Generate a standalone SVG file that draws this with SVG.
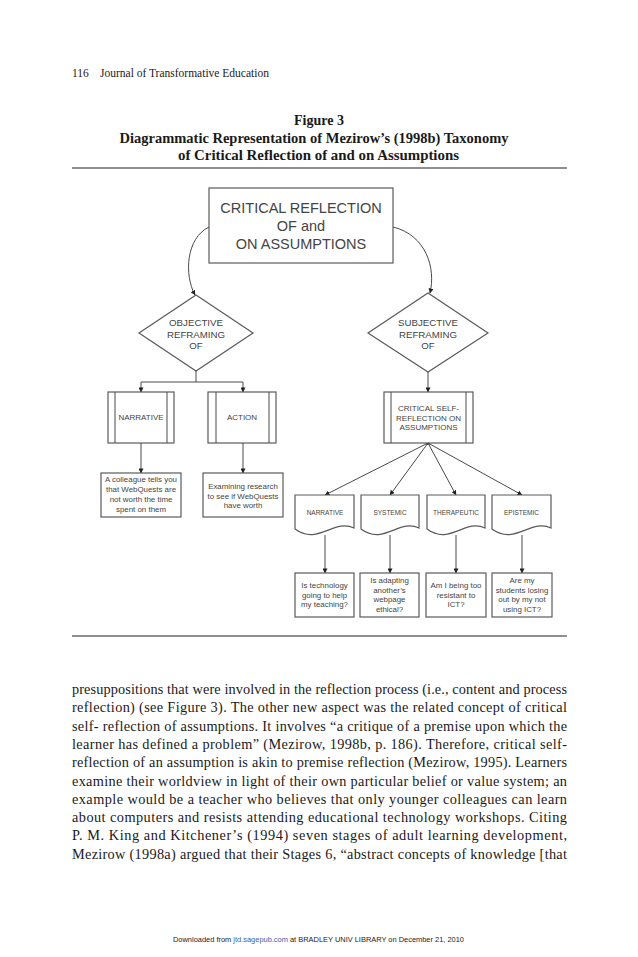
<svg xmlns="http://www.w3.org/2000/svg" width="638" height="957" viewBox="0 0 638 957">
<style>
.bg{fill:#fff}
.shape{fill:#fff;stroke:#5a5a5a;stroke-width:1.2}
.line{fill:none;stroke:#4a4a4a;stroke-width:1}
.rule{stroke:#222;stroke-width:1.2}
.d{font-family:"Liberation Sans",Arial,sans-serif;fill:#444;text-anchor:middle}
.big{font-size:14.5px}
.dia{font-size:9.7px}
.lbl{font-size:8px}
.doc{font-size:6.5px}
.cal{font-size:7.9px}
.body{font-family:"Liberation Serif","Times New Roman",serif;font-size:14.3px;fill:#1a1a1a}
.title{font-family:"Liberation Serif","Times New Roman",serif;font-size:14px;font-weight:bold;fill:#1a1a1a;text-anchor:middle}
</style>
<defs>
<marker id="arr" viewBox="0 0 6 6" refX="5.5" refY="3" markerWidth="5" markerHeight="5" orient="auto">
<path d="M0,0 L6,3 L0,6 Z" fill="#222"/>
</marker>
<marker id="dot" viewBox="0 0 6 6" refX="3" refY="3" markerWidth="4" markerHeight="4">
<circle cx="3" cy="3" r="3" fill="#222"/>
</marker>
</defs>
<rect class="bg" x="0" y="0" width="638" height="957"/>

<text x="72" y="77" font-family="Liberation Serif,'Times New Roman',serif" font-size="11.5" fill="#1a1a1a">116</text>
<text x="100" y="77" font-family="Liberation Serif,'Times New Roman',serif" font-size="11.5" fill="#1a1a1a">Journal of Transformative Education</text>

<text class="title" x="319" y="125">Figure 3</text>
<text class="title" x="314" y="143" textLength="389" lengthAdjust="spacingAndGlyphs">Diagrammatic Representation of Mezirow’s (1998b) Taxonomy</text>
<text class="title" x="318.5" y="160" textLength="281" lengthAdjust="spacingAndGlyphs">of Critical Reflection of and on Assumptions</text>
<line class="rule" x1="72" y1="168" x2="567" y2="168"/>

<g id="connectors">
<path class="line" d="M209,227 C186,238 184,275 195,295" marker-end="url(#arr)"/>
<path class="line" d="M393,227 C426,235 436,268 430,293" marker-end="url(#arr)"/>
<path class="line" d="M196,371 V382 M141,382 H243"/>
<path class="line" d="M141,382 V392" marker-end="url(#arr)"/>
<path class="line" d="M243,382 V392" marker-end="url(#arr)"/>
<path class="line" d="M141,443 V473" marker-end="url(#arr)"/>
<path class="line" d="M243,443 V473" marker-end="url(#arr)"/>
<path class="line" d="M428,372 V392" marker-end="url(#arr)"/>
<path class="line" d="M428,443 L325,495" marker-start="url(#dot)" marker-end="url(#arr)"/>
<path class="line" d="M428,443 L390,495" marker-end="url(#arr)"/>
<path class="line" d="M428,443 L456,495" marker-end="url(#arr)"/>
<path class="line" d="M428,443 L522,495" marker-end="url(#arr)"/>
<path class="line" d="M325,535 V573" marker-end="url(#arr)"/>
<path class="line" d="M390,535 V573" marker-end="url(#arr)"/>
<path class="line" d="M456,535 V573" marker-end="url(#arr)"/>
<path class="line" d="M522,535 V573" marker-end="url(#arr)"/>
</g>

<g id="root">
<rect class="shape" x="209" y="188" width="184" height="75"/>
<text class="d big" x="301" y="213">CRITICAL REFLECTION</text>
<text class="d big" x="301" y="231">OF and</text>
<text class="d big" x="301" y="249">ON ASSUMPTIONS</text>
</g>

<g id="objective">
<path class="shape" d="M196,295 L253,333 L196,371 L139,333 Z"/>
<text class="d dia" x="196" y="326">OBJECTIVE</text>
<text class="d dia" x="196" y="337.5">REFRAMING</text>
<text class="d dia" x="196" y="349">OF</text>
</g>

<g id="subjective">
<path class="shape" d="M428,293 L488,333 L428,372 L368,333 Z"/>
<text class="d dia" x="428" y="326">SUBJECTIVE</text>
<text class="d dia" x="428" y="337.5">REFRAMING</text>
<text class="d dia" x="428" y="349">OF</text>
</g>

<g id="narrative-obj">
<rect class="shape" x="108" y="392" width="66" height="51"/>
<path class="line" d="M115,392 V443 M167,392 V443"/>
<text class="d lbl" x="141" y="420">NARRATIVE</text>
</g>

<g id="action">
<rect class="shape" x="208" y="392" width="68" height="51"/>
<path class="line" d="M216,392 V443 M269,392 V443"/>
<text class="d lbl" x="242" y="420">ACTION</text>
</g>

<g id="colleague">
<rect class="shape" x="101" y="473" width="80" height="44"/>
<text class="d cal" x="141" y="482">A colleague tells you</text>
<text class="d cal" x="141" y="492">that WebQuests are</text>
<text class="d cal" x="141" y="502">not worth the time</text>
<text class="d cal" x="141" y="512">spent on them</text>
</g>

<g id="examining">
<rect class="shape" x="203" y="473" width="80" height="44"/>
<text class="d cal" x="243" y="489">Examining research</text>
<text class="d cal" x="243" y="499">to see if WebQuests</text>
<text class="d cal" x="243" y="508">have worth</text>
</g>

<g id="critical-self">
<rect class="shape" x="384" y="392" width="89" height="51"/>
<path class="line" d="M391,392 V443 M466,392 V443"/>
<text class="d lbl" x="428.5" y="411">CRITICAL SELF-</text>
<text class="d lbl" x="428.5" y="420.5">REFLECTION ON</text>
<text class="d lbl" x="428.5" y="430">ASSUMPTIONS</text>
</g>

<g id="doc-narrative">
<path class="shape" d="M295,495 H354 V528 C334,518 318,546 295,529 Z"/>
<text class="d doc" x="325" y="514.5">NARRATIVE</text>
</g>
<g id="doc-systemic">
<path class="shape" d="M361,495 H419 V528 C399,518 384,546 361,529 Z"/>
<text class="d doc" x="390" y="514.5">SYSTEMIC</text>
</g>
<g id="doc-therapeutic">
<path class="shape" d="M427,495 H485 V528 C465,518 450,546 427,529 Z"/>
<text class="d doc" x="456" y="514.5">THERAPEUTIC</text>
</g>
<g id="doc-epistemic">
<path class="shape" d="M492,495 H551 V528 C531,518 515,546 492,529 Z"/>
<text class="d doc" x="521.5" y="514.5">EPISTEMIC</text>
</g>

<g id="q1">
<rect class="shape" x="295" y="573" width="59" height="44"/>
<text class="d cal" x="324.5" y="588">Is technology</text>
<text class="d cal" x="324.5" y="597.5">going to help</text>
<text class="d cal" x="324.5" y="607">my teaching?</text>
</g>
<g id="q2">
<rect class="shape" x="360" y="573" width="59" height="44"/>
<text class="d cal" x="389.5" y="583">Is adapting</text>
<text class="d cal" x="389.5" y="592.5">another’s</text>
<text class="d cal" x="389.5" y="602">webpage</text>
<text class="d cal" x="389.5" y="611.5">ethical?</text>
</g>
<g id="q3">
<rect class="shape" x="426" y="573" width="60" height="44"/>
<text class="d cal" x="456" y="588">Am I being too</text>
<text class="d cal" x="456" y="597.5">resistant to</text>
<text class="d cal" x="456" y="607">ICT?</text>
</g>
<g id="q4">
<rect class="shape" x="492" y="573" width="60" height="44"/>
<text class="d cal" x="522" y="583">Are my</text>
<text class="d cal" x="522" y="592.5">students losing</text>
<text class="d cal" x="522" y="602">out by my not</text>
<text class="d cal" x="522" y="611.5">using ICT?</text>
</g>

<line class="rule" x1="72" y1="636" x2="567" y2="636"/>

<g class="body">
<text x="72" y="694" textLength="495" lengthAdjust="spacing">presuppositions that were involved in the reflection process (i.e., content and process</text>
<text x="72" y="712.3" textLength="495" lengthAdjust="spacing">reflection) (see Figure 3). The other new aspect was the related concept of critical</text>
<text x="72" y="730.6" textLength="495" lengthAdjust="spacing">self- reflection of assumptions. It involves “a critique of a premise upon which the</text>
<text x="72" y="748.9" textLength="495" lengthAdjust="spacing">learner has defined a problem” (Mezirow, 1998b, p. 186). Therefore, critical self-</text>
<text x="72" y="767.2" textLength="495" lengthAdjust="spacing">reflection of an assumption is akin to premise reflection (Mezirow, 1995). Learners</text>
<text x="72" y="785.5" textLength="495" lengthAdjust="spacing">examine their worldview in light of their own particular belief or value system; an</text>
<text x="72" y="803.8" textLength="495" lengthAdjust="spacing">example would be a teacher who believes that only younger colleagues can learn</text>
<text x="72" y="822.1" textLength="495" lengthAdjust="spacing">about computers and resists attending educational technology workshops. Citing</text>
<text x="72" y="840.4" textLength="495" lengthAdjust="spacing">P. M. King and Kitchener’s (1994) seven stages of adult learning development,</text>
<text x="72" y="858.7" textLength="495" lengthAdjust="spacing">Mezirow (1998a) argued that their Stages 6, “abstract concepts of knowledge [that</text>
</g>

<text x="318.5" y="942" text-anchor="middle" font-family="Liberation Sans,Arial,sans-serif" font-size="7.6" fill="#222" textLength="291" lengthAdjust="spacingAndGlyphs">Downloaded from <tspan fill="#3b5bb5">jtd.sagepub.com</tspan> at BRADLEY UNIV LIBRARY on December 21, 2010</text>
</svg>
